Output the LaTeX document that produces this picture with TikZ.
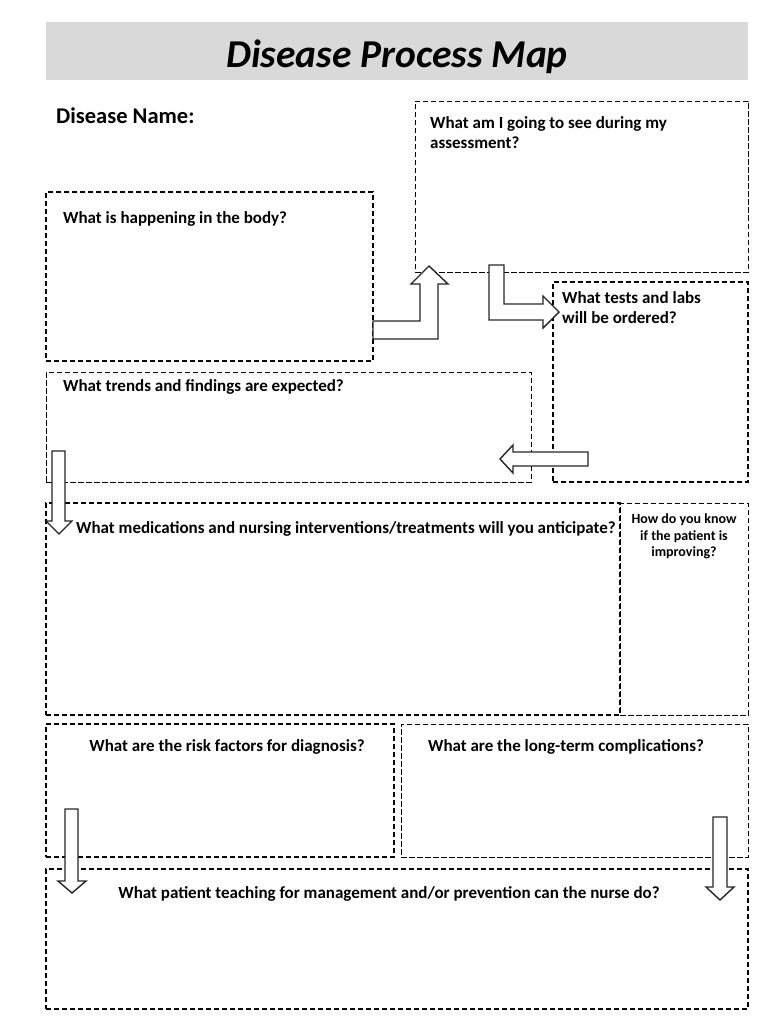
\documentclass[tikz,border=0pt]{standalone}
\usepackage{fontspec}
\setmainfont{Carlito}
\definecolor{titlegray}{HTML}{D9D9D9}
\begin{document}
\begin{tikzpicture}[x=1pt,y=-1pt,
  thickdash/.style={draw=black,line width=1.2pt,dash pattern=on 5pt off 3pt},
  thindash/.style={draw=black,line width=0.9pt,dash pattern=on 5.5pt off 2.5pt},
  box/.style={inner sep=0pt,outer sep=0pt,anchor=north west},
  qtext/.style={font=\fontsize{17}{20}\selectfont\bfseries,inner sep=0pt,anchor=base west,align=left},
  smalltext/.style={font=\fontsize{14}{16.7}\selectfont\bfseries,inner sep=0pt,anchor=base},
  blockarrow/.style={draw=black!85,line width=1.4pt,fill=white,line join=miter}]
\useasboundingbox (0,0) rectangle (768,1024);
% title bar
\node[box,fill=titlegray,minimum width=702pt,minimum height=58pt] (title) at (46,22) {};
\node[font=\fontsize{39.5}{44}\selectfont\bfseries\itshape,inner sep=0pt,anchor=base] (titletext) at (397,67.5) {Disease Process Map};
\node[font=\fontsize{22.5}{26}\selectfont\bfseries,inner sep=0pt,anchor=base west] (dname) at (56,124) {Disease Name:};
% boxes
\node[box,thindash,minimum width=333pt,minimum height=171pt] (assess) at (415,101) {};
\node[box,thickdash,minimum width=327pt,minimum height=169pt] (body) at (46,192) {};
\node[box,thickdash,minimum width=195pt,minimum height=200pt] (tests) at (553,282) {};
\node[box,thindash,minimum width=485pt,minimum height=110pt] (trends) at (46,372) {};
\node[box,thickdash,minimum width=574pt,minimum height=212pt] (meds) at (46,503) {};
\node[box,thindash,minimum width=128pt,minimum height=212pt] (improve) at (620,503) {};
\node[box,thickdash,minimum width=348pt,minimum height=133pt] (risk) at (46,724) {};
\node[box,thindash,minimum width=347pt,minimum height=133pt] (longterm) at (401,724) {};
\node[box,thickdash,minimum width=702pt,minimum height=140pt] (teach) at (46,869) {};
% texts
\node[qtext] (tA) at (430,129) {What am I going to see during my};
\node[qtext] (tA2) at (430,149) {assessment?};
\node[qtext] (tB) at (63,223) {What is happening in the body?};
\node[qtext] (tC) at (562,303) {What tests and labs};
\node[qtext] (tC2) at (562,323) {will be ordered?};
\node[qtext] (tD) at (63,391) {What trends and findings are expected?};
\node[qtext] (tE) at (76,533) {What medications and nursing interventions/treatments will you anticipate?};
\node[smalltext] (tF1) at (684,523) {How do you know};
\node[smalltext] (tF2) at (684,540) {if the patient is};
\node[smalltext] (tF3) at (684,556.5) {improving?};
\node[qtext,anchor=base] (tG) at (227,751) {What are the risk factors for diagnosis?};
\node[qtext,anchor=base] (tH) at (566,751) {What are the long-term complications?};
\node[qtext,anchor=base] (tI) at (389,898) {What patient teaching for management and/or prevention can the nurse do?};
% block arrows
\draw[blockarrow] (373,321) -- (420,321) -- (420,284) -- (411,284) -- (429,266) -- (448,284) -- (438,284) -- (438,339) -- (373,339) -- cycle;
\draw[blockarrow] (489,265) -- (504,265) -- (504,304) -- (543,304) -- (543,296) -- (559,312) -- (543,328) -- (543,320) -- (489,320) -- cycle;
\draw[blockarrow] (588,452) -- (513,452) -- (513,445) -- (500,459) -- (513,473) -- (513,466) -- (588,466) -- cycle;
\draw[blockarrow] (52,451) -- (65,451) -- (65,521) -- (72,521) -- (59,534) -- (46,521) -- (52,521) -- cycle;
\draw[blockarrow] (65,809) -- (78,809) -- (78,881) -- (86,881) -- (72,893) -- (58,881) -- (65,881) -- cycle;
\draw[blockarrow] (713,817) -- (727,817) -- (727,887) -- (734,887) -- (720,900) -- (706,887) -- (713,887) -- cycle;
\end{tikzpicture}
\end{document}
